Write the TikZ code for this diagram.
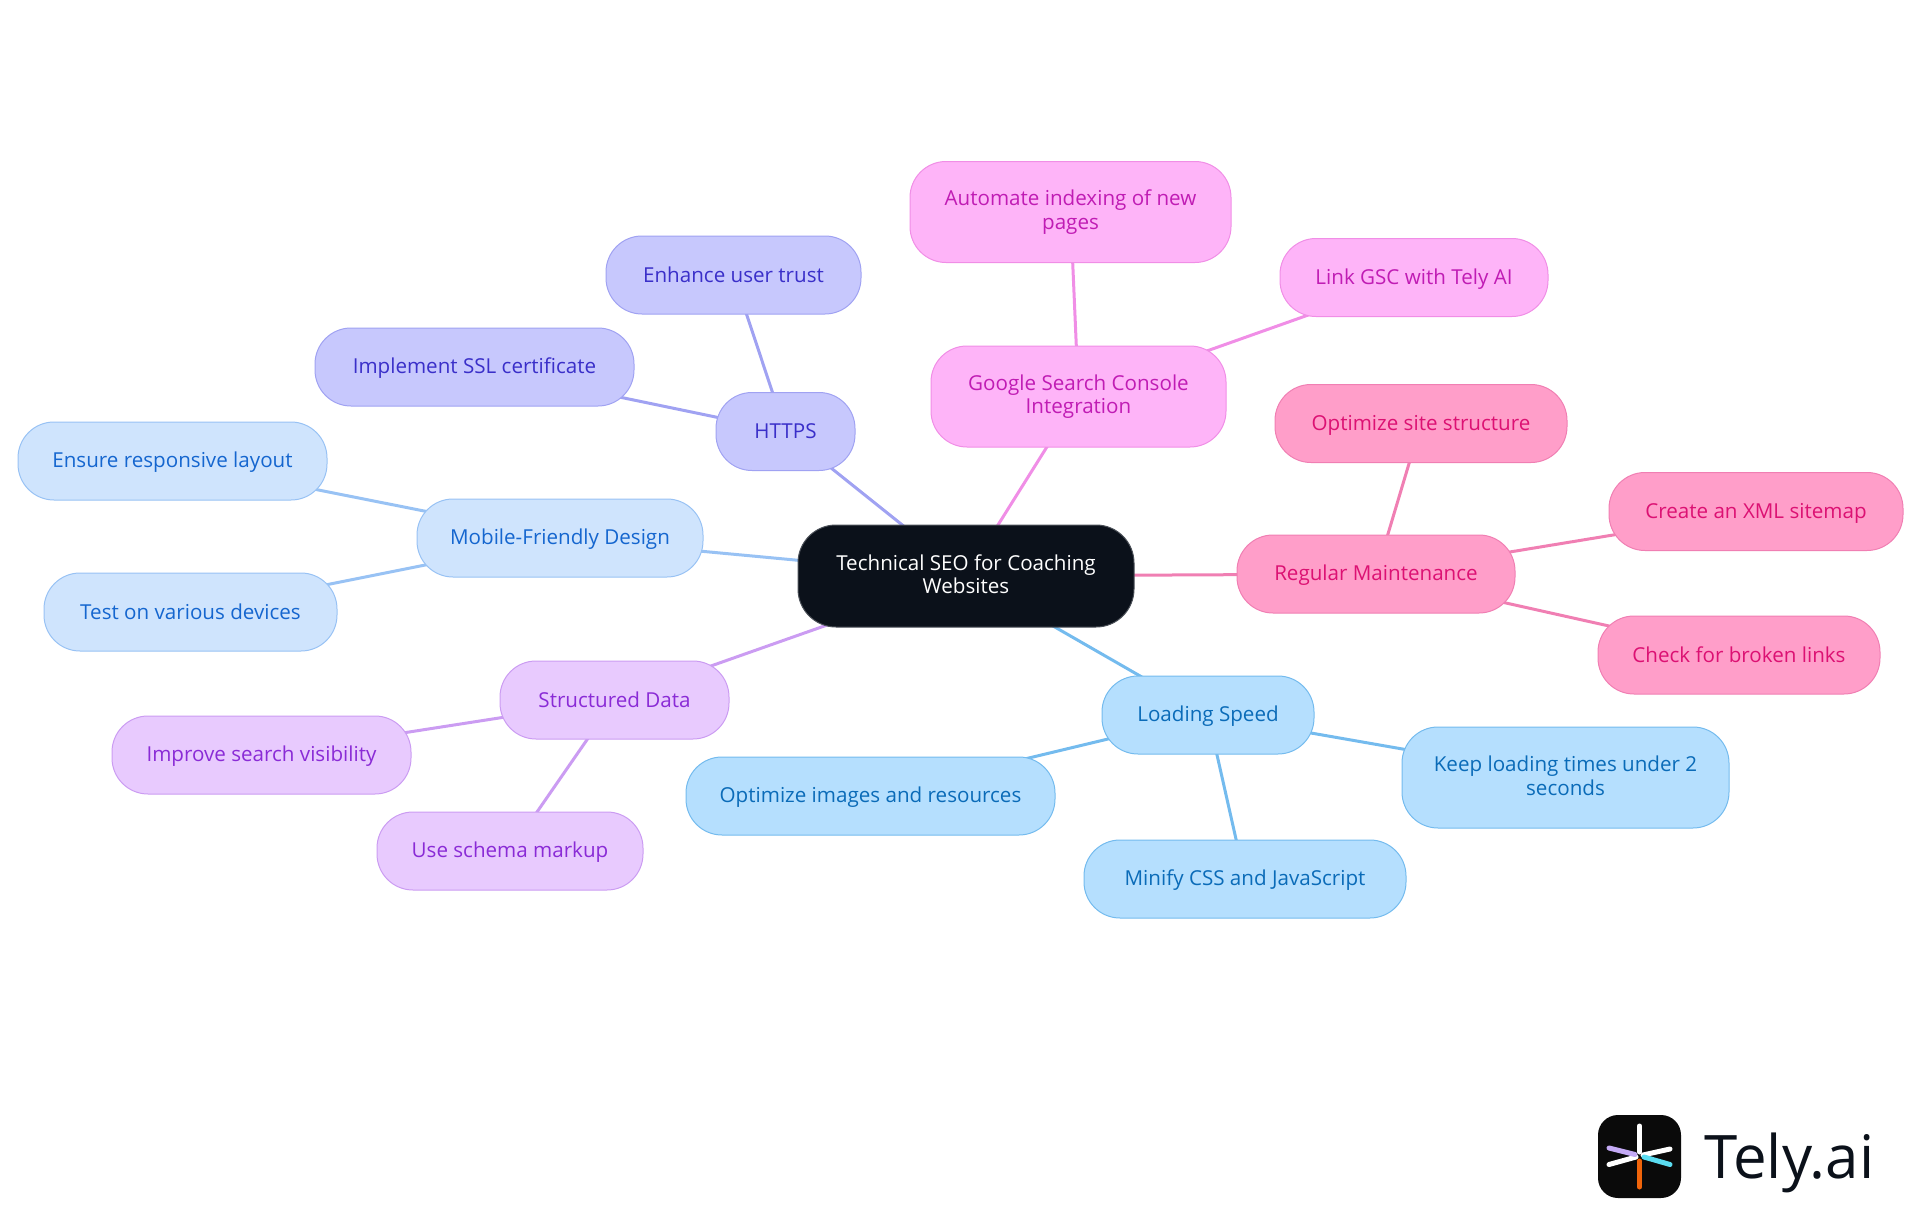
\documentclass[tikz,border=0pt]{standalone}
\usepackage{fontspec}
\setmainfont{Open Sans}
\usetikzlibrary{backgrounds}
\definecolor{cRootF}{HTML}{0B111A}\definecolor{cRootD}{HTML}{4A4F57}
\definecolor{cAF}{HTML}{C7C8FD}\definecolor{cAD}{HTML}{A0A2F2}\definecolor{cAT}{HTML}{3A2FC9}
\definecolor{cBF}{HTML}{CFE4FD}\definecolor{cBD}{HTML}{98C2F4}\definecolor{cBT}{HTML}{1566CF}
\definecolor{cCF}{HTML}{E8CAFE}\definecolor{cCD}{HTML}{CB9CF2}\definecolor{cCT}{HTML}{8A2BD6}
\definecolor{cDF}{HTML}{FEB4F8}\definecolor{cDD}{HTML}{F08EE6}\definecolor{cDT}{HTML}{C01CB4}
\definecolor{cEF}{HTML}{FF9EC9}\definecolor{cED}{HTML}{F07FB3}\definecolor{cET}{HTML}{DC1173}
\definecolor{cFF}{HTML}{B5DFFE}\definecolor{cFD}{HTML}{74BBEE}\definecolor{cFT}{HTML}{0A6BB8}
\definecolor{cLogoA}{RGB}{196,170,245}\definecolor{cLogoB}{RGB}{90,220,240}\definecolor{cLogoC}{RGB}{240,100,10}
\tikzset{
  x=1pt,y=-1pt,
  mm/.style={rounded corners=36pt,minimum height=78pt,inner sep=0pt,align=center,line width=1pt,
    font=\fontsize{20.6}{23.5}\selectfont,
    execute at begin node={\rule{0pt}{18pt}},execute at end node={\rule[-4pt]{0pt}{4pt}}},
  tall/.style={minimum height=101pt},
  root/.style={mm,rounded corners=38pt,minimum height=102pt,minimum width=336pt,fill=cRootF,draw=cRootD,text=white},
  ga/.style={mm,fill=cAF,draw=cAD,text=cAT},
  gb/.style={mm,fill=cBF,draw=cBD,text=cBT},
  gc/.style={mm,fill=cCF,draw=cCD,text=cCT},
  gd/.style={mm,fill=cDF,draw=cDD,text=cDT},
  ge/.style={mm,fill=cEF,draw=cED,text=cET},
  gf/.style={mm,fill=cFF,draw=cFD,text=cFT},
  la/.style={line width=3pt,cAD},
  lb/.style={line width=3pt,cBD},
  lc/.style={line width=3pt,cCD},
  ld/.style={line width=3pt,cDD},
  le/.style={line width=3pt,cED},
  lf/.style={line width=3pt,cFD},
  spoke/.style={line width=5pt,line cap=round},
}
\begin{document}
\begin{tikzpicture}
\useasboundingbox (0,0) rectangle (1920,1215);
\node[root] (root) at (966,576) {Technical SEO for Coaching\\Websites};
% HTTPS
\node[ga,minimum width=139pt] (https) at (785.5,431.5) {HTTPS};
\node[ga,minimum width=255pt] (trust) at (733.5,275) {Enhance user trust};
\node[ga,minimum width=319pt] (ssl) at (474.5,367) {Implement SSL certificate};
% Mobile
\node[gb,minimum width=286pt] (mobile) at (560,538) {Mobile-Friendly Design};
\node[gb,minimum width=309pt] (resp) at (172.5,461) {Ensure responsive layout};
\node[gb,minimum width=293pt] (test) at (190.5,612) {Test on various devices};
% Structured
\node[gc,minimum width=229pt] (struct) at (614.5,700) {Structured Data};
\node[gc,minimum width=299pt] (vis) at (261.5,755) {Improve search visibility};
\node[gc,minimum width=266pt] (schema) at (510,851) {Use schema markup};
% Google
\node[gd,tall,minimum width=295pt] (gsc) at (1078.5,396.5) {Google Search Console\\Integration};
\node[gd,tall,minimum width=321pt] (auto) at (1070.5,212) {Automate indexing of new\\pages};
\node[gd,minimum width=268pt] (link) at (1414,277.5) {Link GSC with Tely AI};
% Maintenance
\node[ge,minimum width=278pt] (maint) at (1376,574) {Regular Maintenance};
\node[ge,minimum width=292pt] (site) at (1421,423.5) {Optimize site structure};
\node[ge,minimum width=294pt] (xml) at (1756,511.5) {Create an XML sitemap};
\node[ge,minimum width=282pt] (broken) at (1739,655) {Check for broken links};
% Speed
\node[gf,minimum width=212pt] (speed) at (1208,715) {Loading Speed};
\node[gf,tall,minimum width=327pt] (keep) at (1565.5,777.5) {Keep loading times under 2\\seconds};
\node[gf,minimum width=369pt] (img) at (870.5,796) {Optimize images and resources};
\node[gf,minimum width=322pt] (minify) at (1245,879) {Minify CSS and JavaScript};
\begin{scope}[on background layer]
\draw[la] (root.center) -- (https.center);
\draw[la] (https.center) -- (trust.center);
\draw[la] (https.center) -- (ssl.center);
\draw[lb] (root.center) -- (mobile.center);
\draw[lb] (mobile.center) -- (resp.center);
\draw[lb] (mobile.center) -- (test.center);
\draw[lc] (root.center) -- (struct.center);
\draw[lc] (struct.center) -- (vis.center);
\draw[lc] (struct.center) -- (schema.center);
\draw[ld] (root.center) -- (gsc.center);
\draw[ld] (gsc.center) -- (auto.center);
\draw[ld] (gsc.center) -- (link.center);
\draw[le] (root.center) -- (maint.center);
\draw[le] (maint.center) -- (site.center);
\draw[le] (maint.center) -- (xml.center);
\draw[le] (maint.center) -- (broken.center);
\draw[lf] (root.center) -- (speed.center);
\draw[lf] (speed.center) -- (keep.center);
\draw[lf] (speed.center) -- (img.center);
\draw[lf] (speed.center) -- (minify.center);
\end{scope}
% logo
\fill[black!96!white,rounded corners=20pt] (1598,1115) rectangle (1681,1198);
\draw[spoke,white] (1639.5,1152) -- (1639.5,1126);
\draw[spoke,white] (1636,1157) -- (1609,1164.5);
\draw[spoke,white] (1643,1155) -- (1670,1149);
\draw[spoke,cLogoA] (1635,1154.5) -- (1609,1148);
\draw[spoke,cLogoB] (1644,1157) -- (1670,1164.5);
\draw[spoke,cLogoC] (1639.5,1161) -- (1639.5,1187);
\node[inner sep=0pt,anchor=base west,text=cRootF,font=\fontsize{60}{60}\selectfont] (tely) at (1704,1178) {Tely.ai};
\end{tikzpicture}
\end{document}
